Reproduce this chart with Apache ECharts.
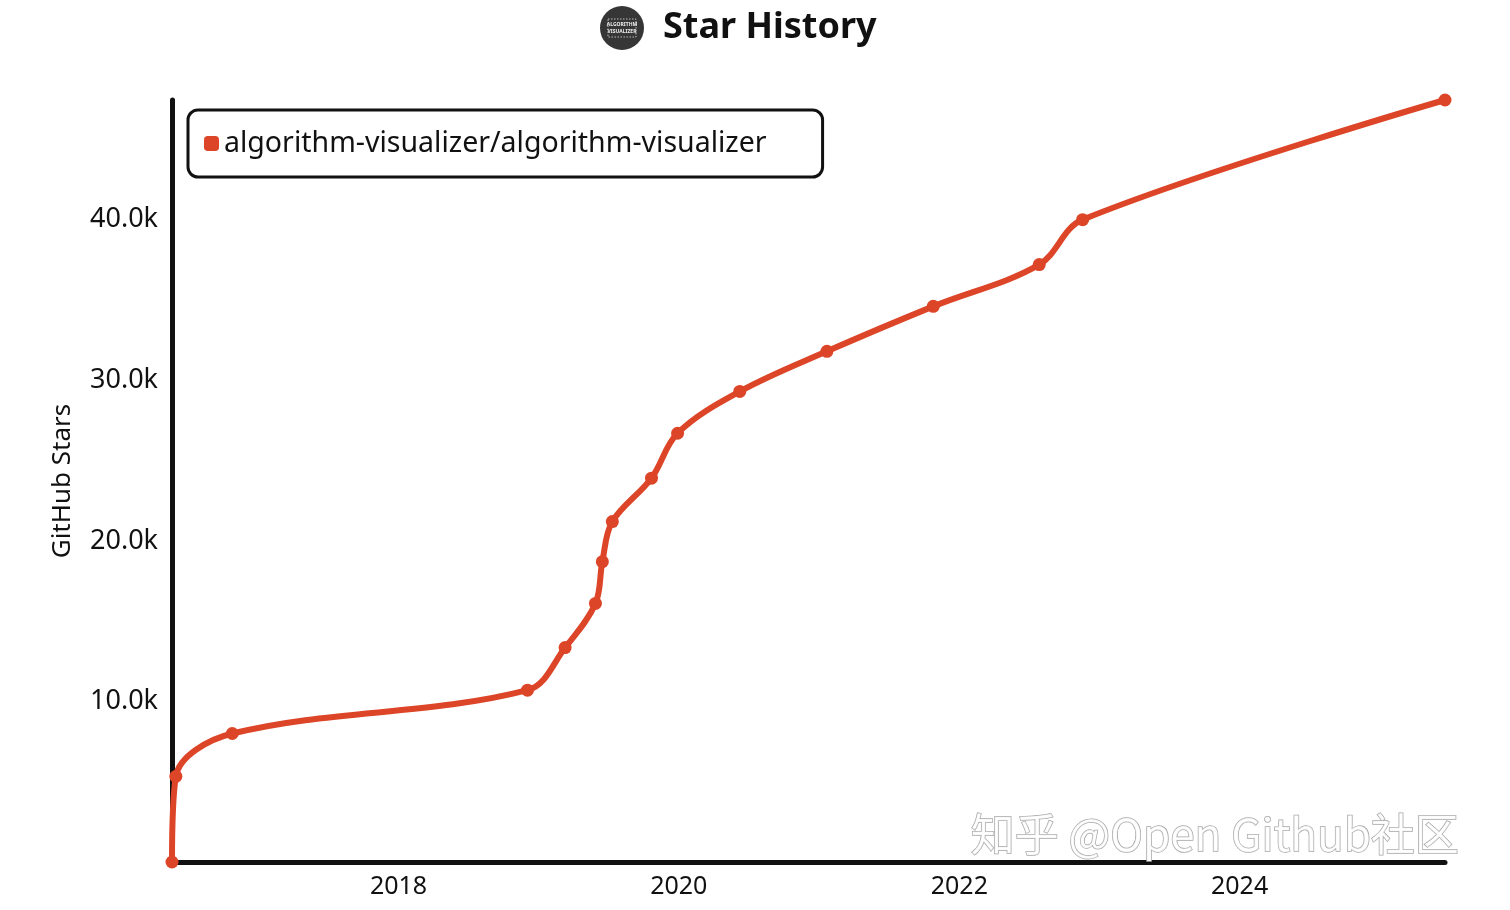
<!DOCTYPE html>
<html>
<head>
<meta charset="utf-8">
<title>Star History</title>
<script src="https://cdn.jsdelivr.net/npm/echarts@6/dist/echarts.min.js"></script>
<style>
  html, body { margin: 0; padding: 0; background: #fff; }
  #chart { width: 1510px; height: 910px; }
</style>
</head>
<body>
<div id="chart"></div>
<script>
// star history of algorithm-visualizer/algorithm-visualizer
var repoName = 'algorithm-visualizer/algorithm-visualizer'
var dates = [
  '2016-05-21', '2016-05-31', '2016-10-25', '2018-12-03', '2019-03-11',
  '2019-05-29', '2019-06-16', '2019-07-12', '2019-10-22', '2019-12-29',
  '2020-06-08', '2021-01-21', '2021-10-25', '2022-07-28', '2022-11-18',
  '2025-06-19'
]
var stars = [
  0, 5330, 8000, 10700, 13350,
  16100, 18700, 21200, 23900, 26700,
  29300, 31800, 34600, 37200, 40000,
  47450
]
var yearLabels = [2018, 2020, 2022, 2024]

var lineColor = '#dd4528'
var font = 'Noto Sans'

var chart = echarts.init(document.getElementById('chart'))

chart.setOption({
  backgroundColor: '#fff',
  animation: false,
  textStyle: { fontFamily: font },
  title: {
    text: 'Star History',
    left: 658,
    top: 5,
    textStyle: { fontSize: 36, fontWeight: 'bold', color: '#111', fontFamily: font }
  },
  legend: {
    left: 188,
    top: 110,
    orient: 'horizontal',
    icon: 'roundRect',
    itemWidth: 15,
    itemHeight: 15,
    itemGap: 12,
    padding: [19, 56, 19, 16],
    borderColor: '#111',
    borderWidth: 3,
    borderRadius: 10,
    textStyle: { fontSize: 28.5, color: '#111', fontFamily: font },
    data: [repoName]
  },
  grid: { left: 172, right: 65, top: 100, bottom: 48 },
  xAxis: {
    type: 'time',
    min: dates[0],
    max: dates[dates.length - 1],
    splitLine: { show: false },
    axisTick: { show: false },
    axisLine: { lineStyle: { color: '#111', width: 5 } },
    axisLabel: {
      fontSize: 25,
      color: '#111',
      margin: 12,
      showMinLabel: false,
      showMaxLabel: false,
      formatter: function (val) {
        var d = new Date(val)
        var y = d.getFullYear()
        if (d.getMonth() === 0 && d.getDate() === 1 && yearLabels.indexOf(y) >= 0) return String(y)
        return ''
      }
    }
  },
  yAxis: {
    type: 'value',
    min: 0,
    max: 'dataMax',
    interval: 10000,
    name: 'GitHub Stars',
    nameLocation: 'middle',
    nameRotate: 90,
    nameGap: 96,
    nameTextStyle: { fontSize: 26, color: '#111', fontFamily: font },
    splitLine: { show: false },
    axisTick: { show: false },
    axisLine: { show: true, lineStyle: { color: '#111', width: 5 } },
    axisLabel: {
      fontSize: 27,
      color: '#111',
      margin: 14,
      showMaxLabel: false,
      formatter: function (v) {
        return v === 0 || v % 10000 !== 0 ? '' : (v / 1000).toFixed(1) + 'k'
      }
    }
  },
  series: [{
    name: repoName,
    type: 'line',
    smooth: 0.35,
    symbol: 'circle',
    symbolSize: 13,
    color: lineColor,
    lineStyle: { width: 6, color: lineColor },
    itemStyle: { color: lineColor },
    data: dates.map(function (d, i) { return [d, stars[i]] }),
    z: 3
  }],
  graphic: [
    {
      // repo logo next to the title
      type: 'group',
      left: 600,
      top: 6,
      children: [
        { type: 'circle', shape: { cx: 22, cy: 22, r: 22 }, style: { fill: '#363636' } },
        { type: 'rect', shape: { x: 8, y: 13, width: 28, height: 18 },
          style: { fill: 'none', stroke: '#ddd', lineWidth: 0.8, lineDash: [1.5, 1.5] } },
        { type: 'text', x: 22, y: 22,
          style: { text: 'ALGORITHM\nVISUALIZER', fill: '#eee', fontSize: 5, fontWeight: 'bold',
                   align: 'center', verticalAlign: 'middle', lineHeight: 7, fontFamily: font } }
      ]
    },
    {
      // source watermark
      type: 'text',
      left: 970,
      top: 812,
      z: 100,
      style: {
        text: '知乎 @Open Github社区',
        fontFamily: 'Noto Sans CJK SC',
        fontSize: 44,
        fill: 'rgba(255,255,255,0.9)',
        stroke: '#a8a8a8',
        lineWidth: 1.5
      }
    }
  ]
})
</script>
</body>
</html>
